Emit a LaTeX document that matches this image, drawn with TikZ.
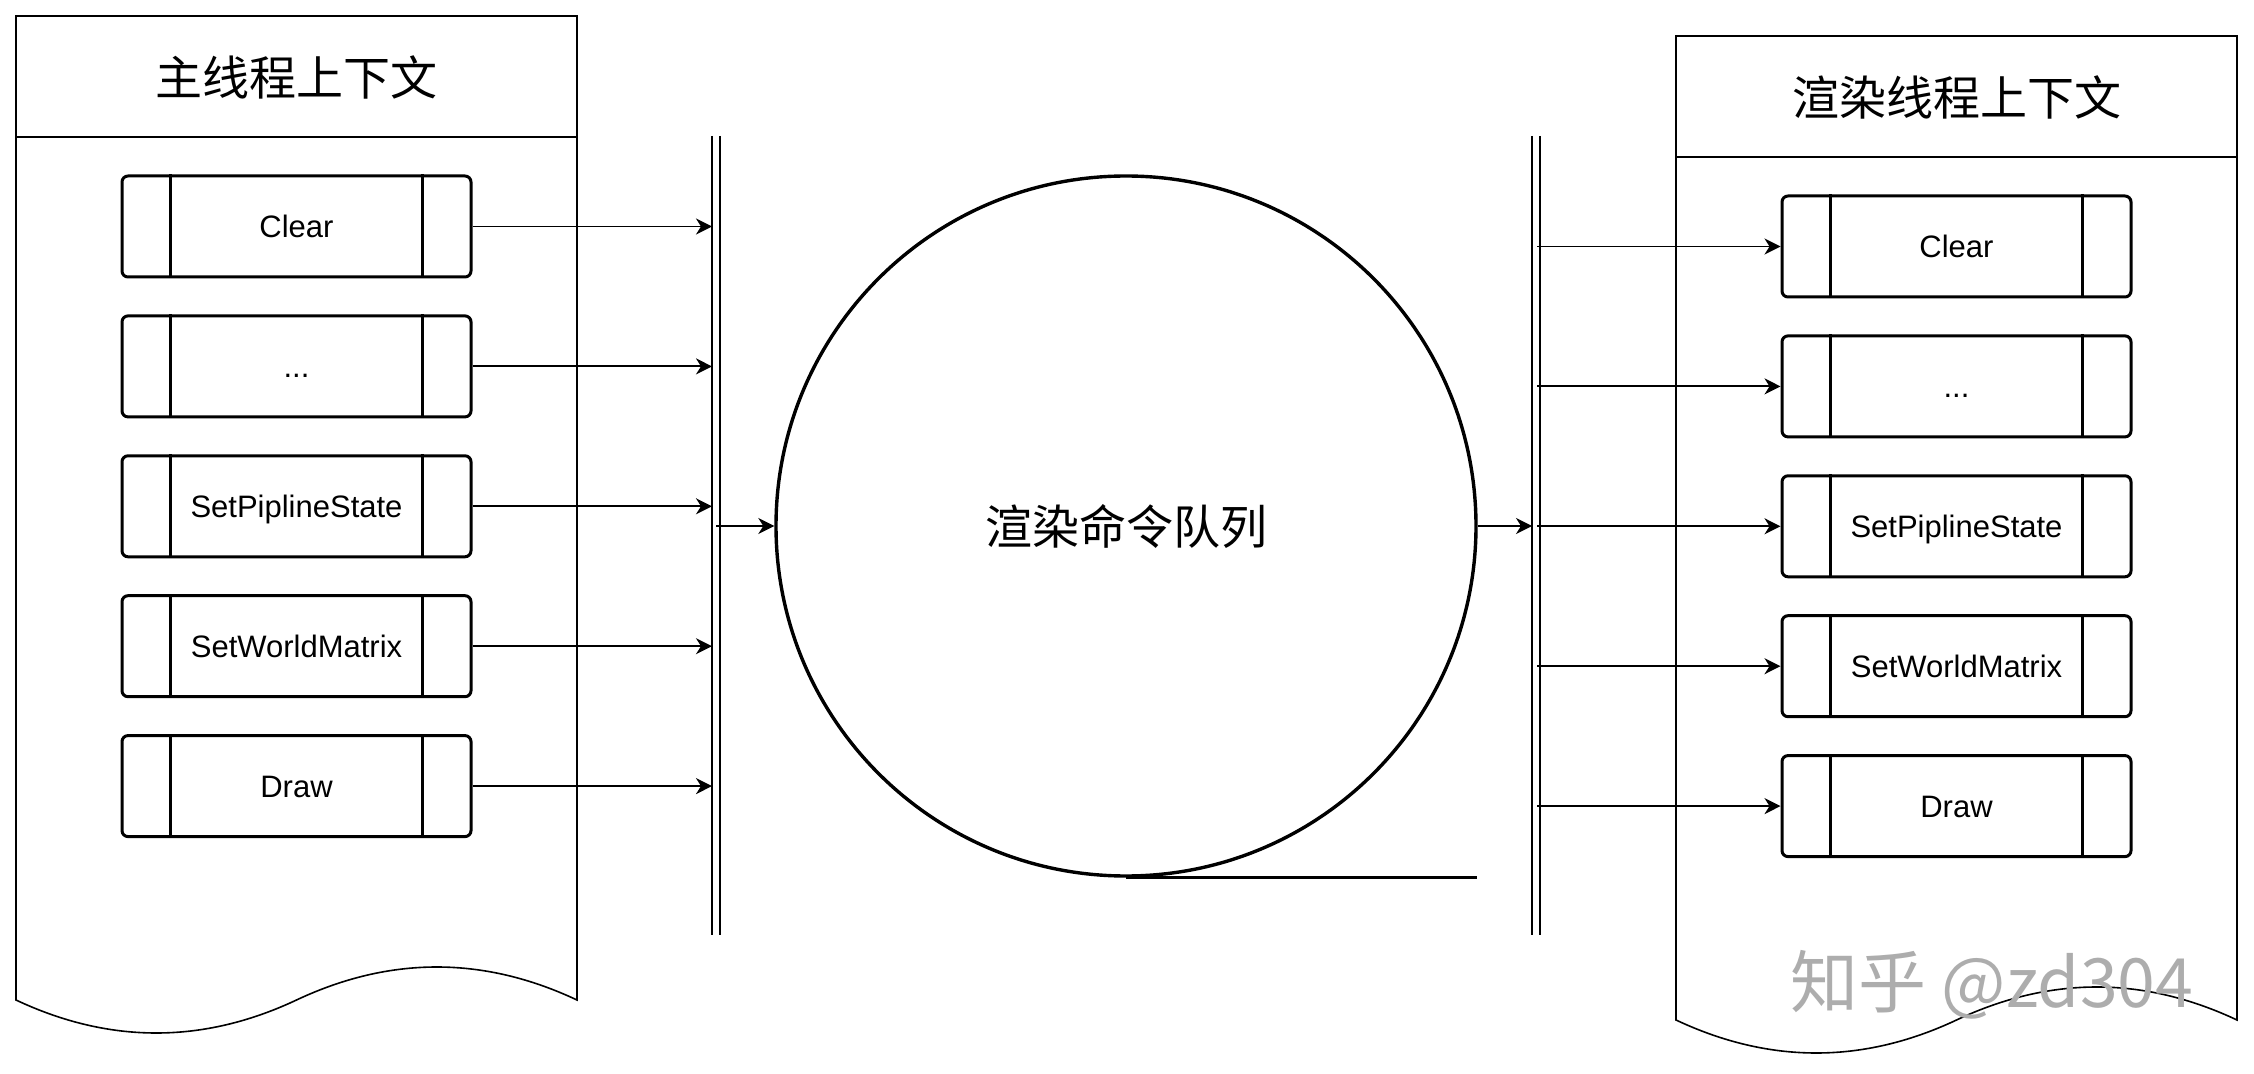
\documentclass[tikz,border=0pt]{standalone}
\usepackage{fontspec}
\setmainfont{Liberation Sans}
\newfontfamily\cjk{Noto Sans CJK SC}
\usetikzlibrary{arrows.meta,calc}
\newcommand\mydots{...}
\tikzset{
  proc/.style={draw, line width=1.5pt, rounded corners=3pt, minimum width=174.5pt, minimum height=50.5pt, inner sep=0pt, text height=11.1pt, text depth=0pt, font=\fontsize{15.5}{18}\selectfont},
  divl/.style={line width=1.5pt},
  panel/.style={draw, line width=0.8pt},
  bar/.style={line width=0.9pt},
  arr/.style={line width=0.9pt, -{Stealth[length=8pt,width=8pt,inset=2.5pt]}},
  ttl/.style={font=\cjk\fontsize{23.5}{28}\selectfont, inner sep=0pt},
}
\begin{document}
\begin{tikzpicture}[x=0.5pt,y=-0.5pt]
\useasboundingbox (0,0) rectangle (2254,1074);
% panels
\foreach \dx/\dy in {0/0,1660/20}{
  \begin{scope}[shift={(\dx,\dy)}]
    \draw[panel] (16,16) -- (577,16) -- (577,1000)
      .. controls (483.5,956) and (390,956) .. (296.5,1000)
      .. controls (203,1044) and (109.5,1044) .. (16,1000) -- cycle;
    \draw[panel] (16,137) -- (577,137);
  \end{scope}
}
\node[ttl] (tL) at (296.5,77) {主线程上下文};
\node[ttl] (tR) at (1956.5,97) {渲染线程上下文};
% boxes
\foreach \i/\t [count=\k] in {0/Clear,1/\mydots,2/SetPiplineState,3/SetWorldMatrix,4/Draw}{
  \node[proc] (l\k) at (296.5,226.5+139.9*\i) {\t};
  \draw[divl] ([xshift=25pt]l\k.north west) -- ([xshift=25pt]l\k.south west);
  \draw[divl] ([xshift=-25pt]l\k.north east) -- ([xshift=-25pt]l\k.south east);
  \node[proc] (r\k) at (1956.5,246.5+139.9*\i) {\t};
  \draw[divl] ([xshift=25pt]r\k.north west) -- ([xshift=25pt]r\k.south west);
  \draw[divl] ([xshift=-25pt]r\k.north east) -- ([xshift=-25pt]r\k.south east);
}
% bars
\coordinate (blA) at (712,136);
\coordinate (blM) at (716,136);
\coordinate (brA) at (1532,136);
\coordinate (brM) at (1537,136);
\draw[bar] (712,136) -- (712,935);
\draw[bar] (720,136) -- (720,935);
\draw[bar] (1532,136) -- (1532,935);
\draw[bar] (1540,136) -- (1540,935);
% queue
\node[circle, draw, line width=1.7pt, minimum size=350pt, inner sep=0pt, font=\cjk\fontsize{23.5}{28}\selectfont] (q) at (1126,526) {渲染命令队列};
\coordinate (qe) at (1477,876);
\draw[line width=1.7pt] (q.south) -- (q.south -| qe);
% arrows
\foreach \k in {1,...,5}{
  \draw[arr] (l\k.east) -- (l\k.east -| blA);
  \draw[arr] (r\k.west -| brM) -- (r\k.west);
}
\draw[arr] (q.west -| blM) -- (q.west);
\draw[arr] (q.east) -- (q.east -| brA);
% watermark
\node[font=\cjk\fontsize{34}{40}\selectfont, text=black!32, inner sep=0pt] (wm) at (1992,985) {知乎 @zd304};
\end{tikzpicture}
\end{document}
